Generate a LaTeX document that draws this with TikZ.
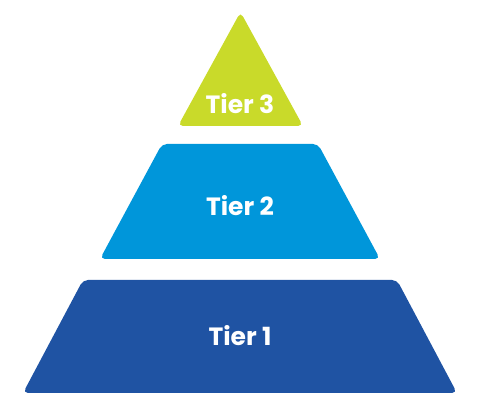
\documentclass[tikz,border=0pt]{standalone}
\usepackage{fontspec}
\setmainfont{Poppins}
\usepackage{tikz}
\definecolor{lime}{HTML}{C9DA2A}
\definecolor{sky}{HTML}{0096DA}
\definecolor{navy}{HTML}{1F53A3}
\begin{document}
\begin{tikzpicture}[x=1pt,y=1pt,
  tier/.style={rounded corners=5pt},
  lbl/.style={text=white,font=\fontsize{25}{30}\selectfont\bfseries,inner sep=0pt}]
\useasboundingbox (0,0) rectangle (480,406);
\fill[tier,navy] (23,13) -- (457,13) -- (397,126) -- (83,126) -- cycle;
\fill[tier,sky] (100,147) -- (380,147) -- (318,262) -- (162,262) -- cycle;
\fill[tier,lime] (178,280) -- (303,280) -- (240.5,394) -- cycle;
\node[lbl] (one) at (240,70) {Tier 1};
\node[lbl] (two) at (240,200) {Tier 2};
\node[lbl] (three) at (240,302) {Tier 3};
\end{tikzpicture}
\end{document}
